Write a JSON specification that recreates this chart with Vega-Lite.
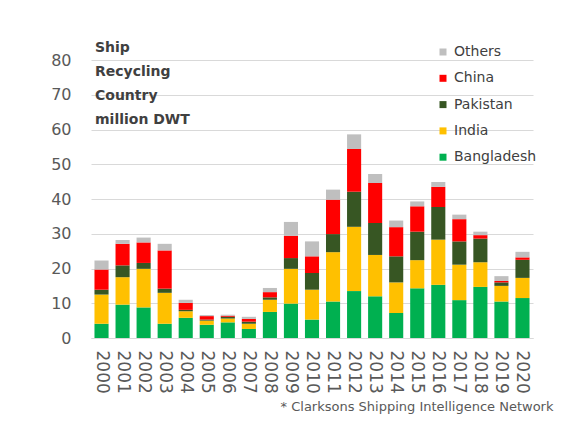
{
  "$schema": "https://vega.github.io/schema/vega-lite/v6.json",
  "autosize": {"type": "none"},
  "width": 442,
  "height": 278,
  "padding": {"left": 91, "top": 60, "right": 40, "bottom": 95},
  "background": "white",
  "title": {
    "text": ["Ship", "Recycling", "Country", "million DWT"],
    "orient": "top",
    "anchor": "start",
    "frame": "group",
    "baseline": "top",
    "lineHeight": 24,
    "font": "DejaVu Sans",
    "fontSize": 14,
    "fontWeight": "bold",
    "color": "#404040",
    "offset": 0,
    "dx": 4,
    "dy": 82
  },
  "data": {
    "values": [
      {"year": "2000", "country": "Bangladesh", "value": 4.1}, {"year": "2000", "country": "India", "value": 8.4}, {"year": "2000", "country": "Pakistan", "value": 1.4}, {"year": "2000", "country": "China", "value": 5.8}, {"year": "2000", "country": "Others", "value": 2.6},
      {"year": "2001", "country": "Bangladesh", "value": 9.6}, {"year": "2001", "country": "India", "value": 7.9}, {"year": "2001", "country": "Pakistan", "value": 3.4}, {"year": "2001", "country": "China", "value": 6.2}, {"year": "2001", "country": "Others", "value": 1.1},
      {"year": "2002", "country": "Bangladesh", "value": 8.8}, {"year": "2002", "country": "India", "value": 11.1}, {"year": "2002", "country": "Pakistan", "value": 1.7}, {"year": "2002", "country": "China", "value": 5.9}, {"year": "2002", "country": "Others", "value": 1.4},
      {"year": "2003", "country": "Bangladesh", "value": 4.1}, {"year": "2003", "country": "India", "value": 8.9}, {"year": "2003", "country": "Pakistan", "value": 1.2}, {"year": "2003", "country": "China", "value": 11.0}, {"year": "2003", "country": "Others", "value": 1.9},
      {"year": "2004", "country": "Bangladesh", "value": 5.8}, {"year": "2004", "country": "India", "value": 1.9}, {"year": "2004", "country": "Pakistan", "value": 0.4}, {"year": "2004", "country": "China", "value": 2.0}, {"year": "2004", "country": "Others", "value": 0.9},
      {"year": "2005", "country": "Bangladesh", "value": 3.8}, {"year": "2005", "country": "India", "value": 1.2}, {"year": "2005", "country": "Pakistan", "value": 0.3}, {"year": "2005", "country": "China", "value": 1.0}, {"year": "2005", "country": "Others", "value": 0.3},
      {"year": "2006", "country": "Bangladesh", "value": 4.5}, {"year": "2006", "country": "India", "value": 1.1}, {"year": "2006", "country": "Pakistan", "value": 0.5}, {"year": "2006", "country": "China", "value": 0.3}, {"year": "2006", "country": "Others", "value": 0.3},
      {"year": "2007", "country": "Bangladesh", "value": 2.6}, {"year": "2007", "country": "India", "value": 1.5}, {"year": "2007", "country": "Pakistan", "value": 0.6}, {"year": "2007", "country": "China", "value": 0.8}, {"year": "2007", "country": "Others", "value": 0.6},
      {"year": "2008", "country": "Bangladesh", "value": 7.5}, {"year": "2008", "country": "India", "value": 3.5}, {"year": "2008", "country": "Pakistan", "value": 0.7}, {"year": "2008", "country": "China", "value": 1.5}, {"year": "2008", "country": "Others", "value": 1.2},
      {"year": "2009", "country": "Bangladesh", "value": 9.9}, {"year": "2009", "country": "India", "value": 10.0}, {"year": "2009", "country": "Pakistan", "value": 3.1}, {"year": "2009", "country": "China", "value": 6.4}, {"year": "2009", "country": "Others", "value": 4.0},
      {"year": "2010", "country": "Bangladesh", "value": 5.3}, {"year": "2010", "country": "India", "value": 8.6}, {"year": "2010", "country": "Pakistan", "value": 4.8}, {"year": "2010", "country": "China", "value": 4.8}, {"year": "2010", "country": "Others", "value": 4.3},
      {"year": "2011", "country": "Bangladesh", "value": 10.5}, {"year": "2011", "country": "India", "value": 14.2}, {"year": "2011", "country": "Pakistan", "value": 5.2}, {"year": "2011", "country": "China", "value": 9.9}, {"year": "2011", "country": "Others", "value": 2.9},
      {"year": "2012", "country": "Bangladesh", "value": 13.5}, {"year": "2012", "country": "India", "value": 18.5}, {"year": "2012", "country": "Pakistan", "value": 10.1}, {"year": "2012", "country": "China", "value": 12.3}, {"year": "2012", "country": "Others", "value": 4.2},
      {"year": "2013", "country": "Bangladesh", "value": 12.0}, {"year": "2013", "country": "India", "value": 11.9}, {"year": "2013", "country": "Pakistan", "value": 9.2}, {"year": "2013", "country": "China", "value": 11.5}, {"year": "2013", "country": "Others", "value": 2.6},
      {"year": "2014", "country": "Bangladesh", "value": 7.2}, {"year": "2014", "country": "India", "value": 8.8}, {"year": "2014", "country": "Pakistan", "value": 7.5}, {"year": "2014", "country": "China", "value": 8.4}, {"year": "2014", "country": "Others", "value": 1.9},
      {"year": "2015", "country": "Bangladesh", "value": 14.3}, {"year": "2015", "country": "India", "value": 8.1}, {"year": "2015", "country": "Pakistan", "value": 8.2}, {"year": "2015", "country": "China", "value": 7.3}, {"year": "2015", "country": "Others", "value": 1.4},
      {"year": "2016", "country": "Bangladesh", "value": 15.3}, {"year": "2016", "country": "India", "value": 13.0}, {"year": "2016", "country": "Pakistan", "value": 9.4}, {"year": "2016", "country": "China", "value": 5.8}, {"year": "2016", "country": "Others", "value": 1.4},
      {"year": "2017", "country": "Bangladesh", "value": 10.9}, {"year": "2017", "country": "India", "value": 10.2}, {"year": "2017", "country": "Pakistan", "value": 6.7}, {"year": "2017", "country": "China", "value": 6.4}, {"year": "2017", "country": "Others", "value": 1.3},
      {"year": "2018", "country": "Bangladesh", "value": 14.7}, {"year": "2018", "country": "India", "value": 7.1}, {"year": "2018", "country": "Pakistan", "value": 6.8}, {"year": "2018", "country": "China", "value": 1.0}, {"year": "2018", "country": "Others", "value": 1.0},
      {"year": "2019", "country": "Bangladesh", "value": 10.5}, {"year": "2019", "country": "India", "value": 4.5}, {"year": "2019", "country": "Pakistan", "value": 1.0}, {"year": "2019", "country": "China", "value": 0.4}, {"year": "2019", "country": "Others", "value": 1.4},
      {"year": "2020", "country": "Bangladesh", "value": 11.5}, {"year": "2020", "country": "India", "value": 5.8}, {"year": "2020", "country": "Pakistan", "value": 5.2}, {"year": "2020", "country": "China", "value": 0.7}, {"year": "2020", "country": "Others", "value": 1.6}
    ]
  },
  "transform": [
    {"calculate": "indexof(['Bangladesh','India','Pakistan','China','Others'], datum.country)", "as": "stackOrder"}
  ],
  "mark": {"type": "bar"},
  "encoding": {
    "x": {
      "field": "year",
      "type": "ordinal",
      "scale": {"paddingInner": 0.33, "paddingOuter": 0.165},
      "axis": {
        "labelAngle": 90,
        "labelAlign": "left",
        "labelBaseline": "middle",
        "labelPadding": 12,
        "labelFont": "DejaVu Sans",
        "labelFontSize": 17,
        "labelColor": "#595959",
        "ticks": false,
        "domain": true,
        "domainColor": "#d9d9d9",
        "title": "* Clarksons Shipping Intelligence Network",
        "titleFont": "DejaVu Sans",
        "titleFontSize": 13,
        "titleFontWeight": "normal",
        "titleColor": "#595959",
        "titleAnchor": "end",
        "titleAlign": "right",
        "titleBaseline": "middle",
        "titleX": 462,
        "titleY": 68
      }
    },
    "y": {
      "field": "value",
      "type": "quantitative",
      "aggregate": "sum",
      "stack": "zero",
      "scale": {"domain": [0, 80]},
      "axis": {
        "values": [0, 10, 20, 30, 40, 50, 60, 70, 80],
        "title": null,
        "domain": false,
        "ticks": false,
        "labelPadding": 20,
        "labelFont": "DejaVu Sans",
        "labelFontSize": 16,
        "labelColor": "#595959",
        "gridColor": "#d9d9d9",
        "gridWidth": 1
      }
    },
    "color": {
      "field": "country",
      "type": "nominal",
      "scale": {
        "domain": ["Others", "China", "Pakistan", "India", "Bangladesh"],
        "range": ["#bfbfbf", "#ff0000", "#375623", "#ffc000", "#00b050"]
      },
      "legend": {
        "title": null,
        "orient": "none",
        "legendX": 345,
        "legendY": -15,
        "padding": 0,
        "symbolType": "square",
        "symbolSize": 49,
        "symbolStrokeWidth": 0,
        "labelFont": "DejaVu Sans",
        "labelFontSize": 14,
        "labelColor": "#404040",
        "labelOffset": 4,
        "rowPadding": 12.3
      }
    },
    "order": {"field": "stackOrder", "type": "quantitative", "aggregate": "min", "sort": "ascending"}
  },
  "config": {
    "view": {"stroke": null}
  }
}
